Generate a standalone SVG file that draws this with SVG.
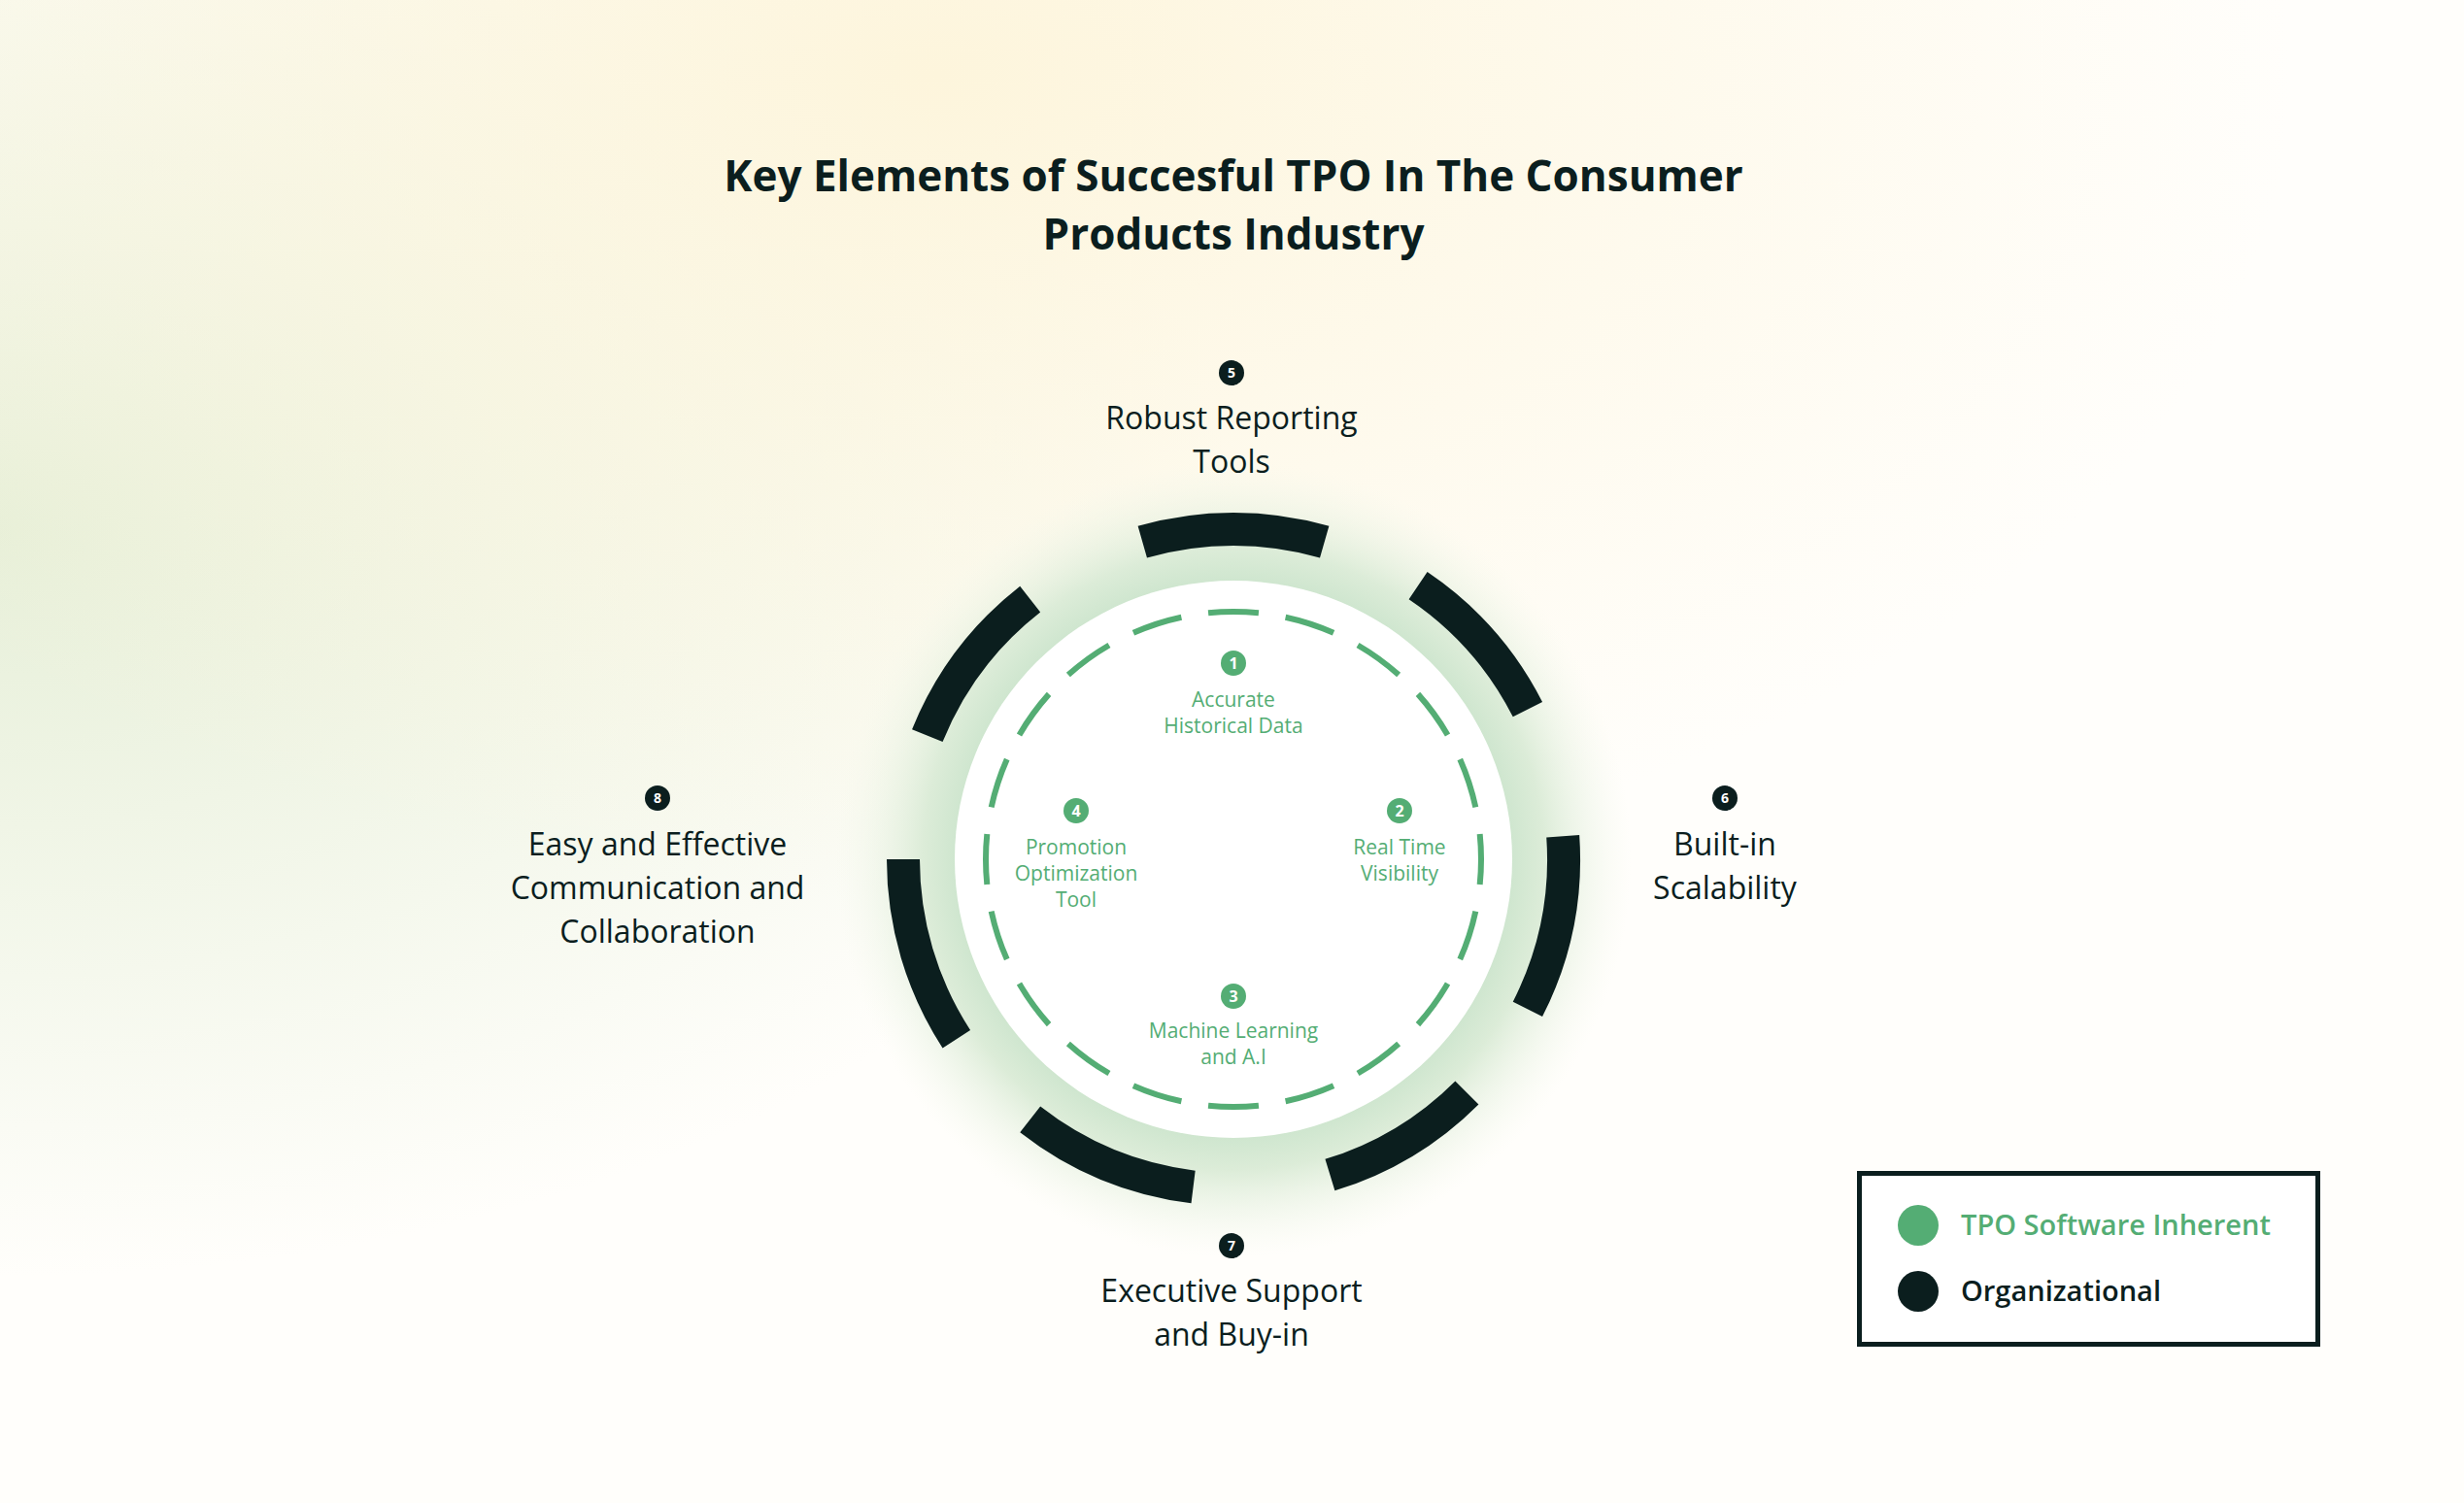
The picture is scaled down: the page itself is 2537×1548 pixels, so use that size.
<svg xmlns="http://www.w3.org/2000/svg" width="2537" height="1548" viewBox="0 0 2537 1548">
<defs>
<radialGradient id="bgY" cx="0.38" cy="0.05" r="0.55"><stop offset="0" stop-color="#fdf5dc"/><stop offset="1" stop-color="#fdf5dc" stop-opacity="0"/></radialGradient>
<radialGradient id="bgG" cx="0" cy="0.35" r="0.5"><stop offset="0" stop-color="#e6efd8"/><stop offset="1" stop-color="#e6efd8" stop-opacity="0"/></radialGradient>
<radialGradient id="glow"><stop offset="0.7" stop-color="#cfe6cf"/><stop offset="0.78" stop-color="#dcecd8"/><stop offset="1" stop-color="#f4f8ec" stop-opacity="0"/></radialGradient>
<style>
.arc{fill:none;stroke:#0b1e1e;stroke-width:34}
.dash{fill:none;stroke:#54ad74;stroke-width:6}
.gb{fill:#54ad74}.db{fill:#0b1e1e}
.bn{font-family:"Open Sans","Liberation Sans",sans-serif;font-weight:700;fill:#fff;text-anchor:middle}
.it{font-family:"Open Sans","Liberation Sans",sans-serif;font-size:21px;fill:#54ad74;text-anchor:middle}
.ot{font-family:"Open Sans","Liberation Sans",sans-serif;font-size:32px;fill:#0b1e1e;text-anchor:middle}
.tt{font-family:"Open Sans","Liberation Sans",sans-serif;font-size:44px;font-weight:700;fill:#0b1e1e;text-anchor:middle}
.lg{font-family:"Open Sans","Liberation Sans",sans-serif;font-size:29px;font-weight:600}
</style>
</defs>
<rect width="2537" height="1548" fill="#fffefb"/>
<rect width="2537" height="1548" fill="url(#bgG)"/>
<rect width="2537" height="1548" fill="url(#bgY)"/>
<g id="title"><text class="tt" x="1270" y="197">Key Elements of Succesful TPO In The Consumer</text><text class="tt" x="1270" y="257">Products Industry</text></g>
<g id="ring">
<circle cx="1270" cy="885" r="410" fill="url(#glow)"/>
<circle cx="1270" cy="885" r="287" fill="#fff"/>
<path class="dash" pathLength="20" stroke-dasharray="0.65 0.35" stroke-dashoffset="0.325" d="M1270,630 A255,255 0 1 1 1270,1140 A255,255 0 1 1 1270,630"/>
</g>
<g id="connectors">
<path class="arc" d="M1176.3,558.2 A340,340 0 0 1 1363.7,558.2"/>
<path class="arc" d="M1460.1,603.1 A340,340 0 0 1 1572.9,730.6"/>
<path class="arc" d="M1609.2,861.3 A340,340 0 0 1 1572.9,1039.4"/>
<path class="arc" d="M1510.4,1125.4 A340,340 0 0 1 1369.4,1210.1"/>
<path class="arc" d="M1228.6,1222.5 A340,340 0 0 1 1060.7,1152.9"/>
<path class="arc" d="M984.8,1070.2 A340,340 0 0 1 930,885"/>
<path class="arc" d="M954.8,757.6 A340,340 0 0 1 1060.7,617.1"/>
</g>
<g id="n1"><circle class="gb" cx="1270" cy="683" r="13"/><text class="bn" x="1270" y="689" font-size="16">1</text><text class="it" x="1270" y="728">Accurate</text><text class="it" x="1270" y="755">Historical Data</text></g>
<g id="n2"><circle class="gb" cx="1441" cy="835" r="13"/><text class="bn" x="1441" y="841" font-size="16">2</text><text class="it" x="1441" y="880">Real Time</text><text class="it" x="1441" y="907">Visibility</text></g>
<g id="n3"><circle class="gb" cx="1270" cy="1026" r="13"/><text class="bn" x="1270" y="1032" font-size="16">3</text><text class="it" x="1270" y="1069">Machine Learning</text><text class="it" x="1270" y="1096">and A.I</text></g>
<g id="n4"><circle class="gb" cx="1108" cy="835" r="13"/><text class="bn" x="1108" y="841" font-size="16">4</text><text class="it" x="1108" y="880">Promotion</text><text class="it" x="1108" y="907">Optimization</text><text class="it" x="1108" y="934">Tool</text></g>
<g id="n5"><circle class="db" cx="1268" cy="384" r="13"/><text class="bn" x="1268" y="389" font-size="14">5</text><text class="ot" x="1268" y="442">Robust Reporting</text><text class="ot" x="1268" y="487">Tools</text></g>
<g id="n6"><circle class="db" cx="1776" cy="822" r="13"/><text class="bn" x="1776" y="827" font-size="14">6</text><text class="ot" x="1776" y="881">Built-in</text><text class="ot" x="1776" y="926">Scalability</text></g>
<g id="n7"><circle class="db" cx="1268" cy="1283" r="13"/><text class="bn" x="1268" y="1288" font-size="14">7</text><text class="ot" x="1268" y="1341">Executive Support</text><text class="ot" x="1268" y="1386">and Buy-in</text></g>
<g id="n8"><circle class="db" cx="677" cy="822" r="13"/><text class="bn" x="677" y="827" font-size="14">8</text><text class="ot" x="677" y="881">Easy and Effective</text><text class="ot" x="677" y="926">Communication and</text><text class="ot" x="677" y="971">Collaboration</text></g>
<g id="legend">
<rect x="1914.5" y="1208.5" width="472" height="176" fill="#fff" stroke="#0b1e1e" stroke-width="5"/>
<circle class="gb" cx="1975" cy="1262" r="21"/><text class="lg" x="2019" y="1272" fill="#54ad74">TPO Software Inherent</text>
<circle class="db" cx="1975" cy="1330" r="21"/><text class="lg" x="2019" y="1340" fill="#0b1e1e">Organizational</text>
</g>
</svg>
